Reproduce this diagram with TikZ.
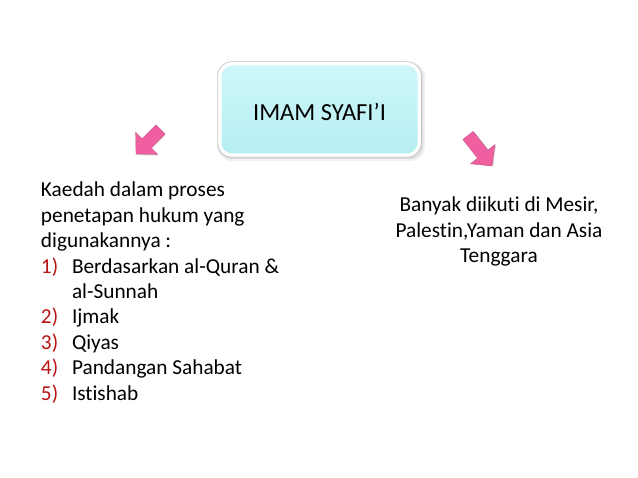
\documentclass[tikz,border=0pt]{standalone}
\usepackage{fontspec}
\setmainfont[Ligatures=NoCommon]{Carlito}
\definecolor{arrowpink}{RGB}{240,96,160}
\definecolor{numred}{RGB}{185,20,20}
\definecolor{boxtop}{RGB}{206,247,250}
\definecolor{boxbot}{RGB}{182,238,242}
\tikzset{
  body/.style={font=\fontsize{21.3}{25}\selectfont, inner sep=0pt, outer sep=0pt},
  num/.style={body, text=numred},
  titletext/.style={font=\fontsize{24.5}{29}\selectfont, inner sep=0pt, outer sep=0pt},
  blockarrow/.style={fill=arrowpink, draw=arrowpink!85!black, line width=0.4pt, line join=miter},
}
\newcommand{\blockarr}[4]{% tail x, tail y, angle, length
  \begin{scope}[shift={(#1,#2)}, rotate=#3]
    \fill[black, opacity=0.18] (0.8,-7.3) -- (#4-14.2,-7.3) -- (#4-14.2,-16.3) -- (#4+0.8,-0.8) -- (#4-14.2,14.7) -- (#4-14.2,5.7) -- (0.8,5.7) -- cycle;
    \path[blockarrow] (0,-6.5) -- (#4-15,-6.5) -- (#4-15,-15.5) -- (#4,0) -- (#4-15,15.5) -- (#4-15,6.5) -- (0,6.5) -- cycle;
  \end{scope}}
\begin{document}
\begin{tikzpicture}[x=1pt,y=-1pt]
\useasboundingbox[fill=white] (0,0) rectangle (638,478);
% shadow of box
\fill[black, opacity=0.06, rounded corners=15pt] (217,62) rectangle (425,161);
\fill[black, opacity=0.08, rounded corners=14pt] (218,63) rectangle (423,159);
% box
\node[draw=white, line width=3.5pt, rounded corners=12pt, top color=boxtop, bottom color=boxbot,
      minimum width=199.5pt, minimum height=91.5pt, inner sep=0pt, outer sep=0pt] (box) at (319.5,109.5) {};
\draw[gray!55, line width=0.5pt, rounded corners=14pt]
  ([shift={(-2pt,2pt)}]box.north west) rectangle ([shift={(2pt,-2pt)}]box.south east);
\node[titletext, anchor=base] (title) at (319.5,121) {IMAM SYAFI’I};
% arrows
\blockarr{160.5}{129.5}{225}{34.6}
\blockarr{468}{135.5}{-51.8}{38.8}
% left text
\node[body, anchor=base west] (l1) at (41,197) {Kaedah dalam proses};
\node[body, anchor=base west] (l2) at (41,222.4) {penetapan hukum yang};
\node[body, anchor=base west] (l3) at (41,247.8) {digunakannya :};
\node[num, anchor=base west] (n1) at (41,273.2) {1)};
\node[body, anchor=base west] (i1) at (72,273.2) {Berdasarkan al-Quran \&};
\node[body, anchor=base west] (i1b) at (72,298.6) {al-Sunnah};
\node[num, anchor=base west] (n2) at (41,324) {2)};
\node[body, anchor=base west] (i2) at (72,324) {Ijmak};
\node[num, anchor=base west] (n3) at (41,349.4) {3)};
\node[body, anchor=base west] (i3) at (72,349.4) {Qiyas};
\node[num, anchor=base west] (n4) at (41,374.8) {4)};
\node[body, anchor=base west] (i4) at (72,374.8) {Pandangan Sahabat};
\node[num, anchor=base west] (n5) at (41,400.2) {5)};
\node[body, anchor=base west] (i5) at (72,400.2) {Istishab};
% right text
\node[body, anchor=base] (r1) at (499,212) {Banyak diikuti di Mesir,};
\node[body, anchor=base] (r2) at (499,237.5) {Palestin,Yaman dan Asia};
\node[body, anchor=base] (r3) at (499,263) {Tenggara};
\end{tikzpicture}
\end{document}
